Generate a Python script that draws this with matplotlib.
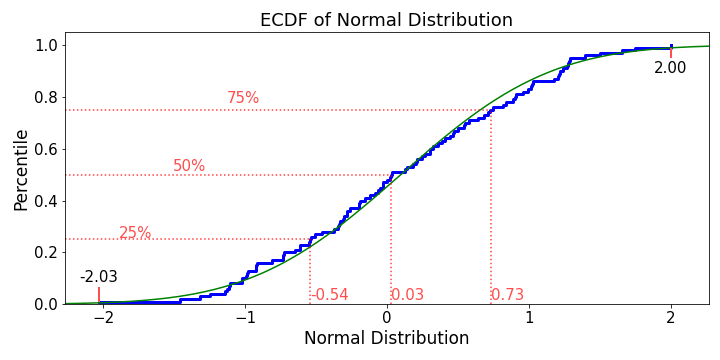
import math
import numpy as np
import matplotlib
matplotlib.use('Agg')
import matplotlib.pyplot as plt

# sorted sample values (n = 100)
samples = [
    -2.03, -1.46, -1.32, -1.25, -1.14, -1.13, -1.11, -1.105, -1.025, -1.02,
    -0.99, -0.985, -0.98, -0.925, -0.92, -0.915, -0.81, -0.735, -0.73, -0.725,
    -0.65, -0.615, -0.61, -0.55, -0.545, -0.538, -0.51, -0.46, -0.37, -0.345,
    -0.34, -0.33, -0.31, -0.305, -0.285, -0.28, -0.26, -0.20, -0.195, -0.19,
    -0.155, -0.12, -0.085, -0.06, -0.05, -0.03, -0.025, 0.00, 0.02, 0.025,
    0.035, 0.13, 0.14, 0.185, 0.205, 0.21, 0.245, 0.27, 0.30, 0.305,
    0.325, 0.36, 0.385, 0.41, 0.445, 0.465, 0.47, 0.50, 0.545, 0.55,
    0.575, 0.64, 0.68, 0.71, 0.725, 0.745, 0.82, 0.84, 0.885, 0.905,
    0.91, 0.955, 0.99, 1.015, 1.025, 1.03, 1.18, 1.205, 1.21, 1.22,
    1.24, 1.265, 1.275, 1.28, 1.29, 1.395, 1.50, 1.655, 1.75, 2.00,
]
percents = [25, 50, 75]
pct_label_x = [-1.89, -1.51, -1.13]
pct_label_y = [0.255, 0.515, 0.775]
x_lo, x_hi = -2.27, 2.27

x = np.sort(np.array(samples))
n = len(x)
y = np.arange(1, n + 1) / n
mu, sigma = x.mean(), x.std()
pct_vals = np.percentile(x, percents)

fig = plt.figure(figsize=(10, 5), dpi=72)
ax = fig.add_subplot()
fig.subplots_adjust(left=0.090, right=0.985, bottom=0.155, top=0.911)

ax.step(np.r_[x[0], x], np.r_[0, y], where='post', color='blue', lw=3)

xs = np.linspace(x_lo, x_hi, 300)
cdf = [0.5 * (1 + math.erf((v - mu) / (sigma * math.sqrt(2)))) for v in xs]
ax.plot(xs, cdf, color='green', lw=1.5)

for p, v, lx, ly in zip(percents, pct_vals, pct_label_x, pct_label_y):
    ax.hlines(p / 100, x_lo, v, colors='red', linestyles=':', alpha=0.75)
    ax.vlines(v, 0, p / 100, colors='red', linestyles=':', alpha=0.75)
    ax.text(lx, ly, f"{p}%", color='red', alpha=0.7, fontsize=15)
    ax.text(v, 0.005, f"{v:.2f}", color='red', alpha=0.7, fontsize=15,
            ha='left', va='bottom')

# min / max markers
ax.vlines(x[0], 0.01, 0.065, colors='#ff5050', lw=2)
ax.text(x[0], 0.075, f"{x[0]:.2f}", fontsize=15, ha='center', va='bottom')
ax.vlines(x[-1], 0.95, 0.99, colors='#ff5050', lw=2)
ax.text(x[-1], 0.94, f"{x[-1]:.2f}", fontsize=15, ha='center', va='top')

ax.set_xlim(x_lo, x_hi)
ax.set_ylim(0, 1.05)
ax.set_title("ECDF of Normal Distribution", fontsize=18)
ax.set_xlabel("Normal Distribution", fontsize=17)
ax.set_ylabel("Percentile", fontsize=17)
ax.tick_params(labelsize=15)

fig.savefig('out.png', dpi=72)
